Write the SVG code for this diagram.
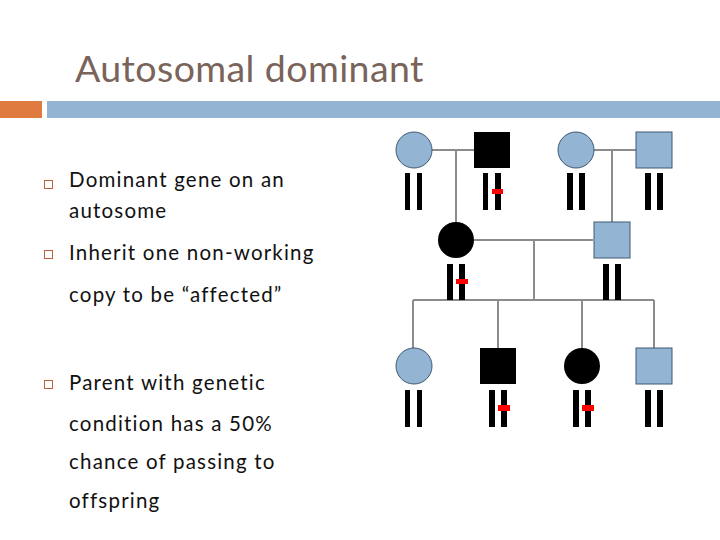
<svg xmlns="http://www.w3.org/2000/svg" width="720" height="540" viewBox="0 0 720 540">
<style>
.t{font-family:"Lato","Open Sans",sans-serif;font-size:20.5px;fill:#111;letter-spacing:1.2px}
.b{fill:none;stroke:#c0603a;stroke-width:1}
.blue{fill:#93b4d3;stroke:#3e5a75;stroke-width:1}
.blk{fill:#000}
.ln{stroke:#8c8c8c;stroke-width:2;fill:none}
.red{fill:#f00}
</style>
<rect width="720" height="540" fill="#fff"/>
<text x="75" y="82" font-family="Lato,'Open Sans',sans-serif" font-size="37.5" letter-spacing="0.4" fill="#79635a">Autosomal dominant</text>
<rect x="0" y="101" width="42" height="17" fill="#e07b3f"/>
<rect x="47" y="101" width="673" height="17" fill="#93b4d3"/>
<g id="bullets">
<rect class="b" x="44.5" y="180.5" width="8" height="8"/>
<rect class="b" x="44.5" y="250.5" width="8" height="8"/>
<rect class="b" x="44.5" y="380.5" width="8" height="8"/>
</g>
<g id="text" class="t">
<text x="69" y="187">Dominant gene on an</text>
<text x="69" y="218">autosome</text>
<text x="69" y="260">Inherit one non-working</text>
<text x="69" y="302">copy to be “affected”</text>
<text x="69" y="390">Parent with genetic</text>
<text x="69" y="431">condition has a 50%</text>
<text x="69" y="469">chance of passing to</text>
<text x="69" y="508">offspring</text>
</g>
<g id="connectors" class="ln">
<path d="M432 150H474M456 150V222"/>
<path d="M594 150H636M612 150V222"/>
<path d="M474 240H593M534 240V300"/>
<path d="M413 300H654M413 300V348M498 300V348M582 300V348M654 300V348"/>
</g>
<g id="gp1"><circle class="blue" cx="414" cy="150" r="18"/><rect class="blk" x="405" y="173" width="5" height="37"/><rect class="blk" x="417" y="173" width="5" height="37"/></g>
<g id="gp2"><rect class="blk" x="474" y="132" width="36" height="36"/><rect class="blk" x="483" y="173" width="5" height="37"/><rect class="blk" x="495" y="173" width="6" height="37"/><rect class="red" x="492" y="189" width="11" height="5"/></g>
<g id="gp3"><circle class="blue" cx="576" cy="150" r="18"/><rect class="blk" x="567" y="173" width="6" height="37"/><rect class="blk" x="579" y="173" width="6" height="37"/></g>
<g id="gp4"><rect class="blue" x="636" y="132" width="36" height="36"/><rect class="blk" x="645" y="173" width="6" height="37"/><rect class="blk" x="657" y="173" width="6" height="37"/></g>
<g id="mother"><circle class="blk" cx="456" cy="240" r="18"/><rect class="blk" x="447" y="264" width="6" height="36"/><rect class="blk" x="459" y="264" width="6" height="36"/><rect class="red" x="456" y="279" width="12" height="5"/></g>
<g id="father"><rect class="blue" x="594" y="222" width="36" height="36"/><rect class="blk" x="603" y="264" width="6" height="36"/><rect class="blk" x="615" y="264" width="6" height="36"/></g>
<g id="c1"><circle class="blue" cx="414" cy="366" r="18"/><rect class="blk" x="405" y="390" width="5" height="37"/><rect class="blk" x="417" y="390" width="5" height="37"/></g>
<g id="c2"><rect class="blk" x="480" y="348" width="36" height="36"/><rect class="blk" x="489" y="390" width="6" height="37"/><rect class="blk" x="501" y="390" width="6" height="37"/><rect class="red" x="498" y="405" width="12" height="6"/></g>
<g id="c3"><circle class="blk" cx="582" cy="366" r="18"/><rect class="blk" x="573" y="390" width="6" height="37"/><rect class="blk" x="585" y="390" width="6" height="37"/><rect class="red" x="582" y="405" width="12" height="6"/></g>
<g id="c4"><rect class="blue" x="636" y="348" width="36" height="36"/><rect class="blk" x="645" y="390" width="6" height="37"/><rect class="blk" x="657" y="390" width="6" height="37"/></g>
</svg>
